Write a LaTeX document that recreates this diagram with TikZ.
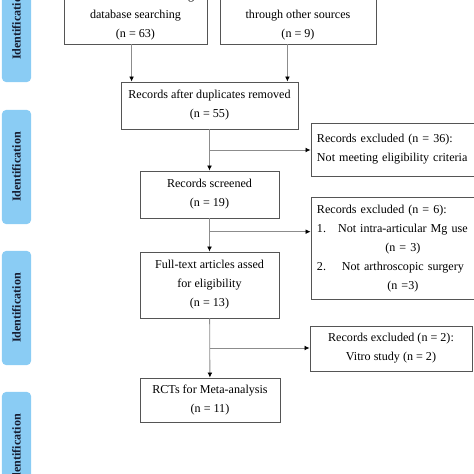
\documentclass[tikz,border=0pt]{standalone}
\usepackage{fontspec}
\setmainfont{Liberation Serif}
\usetikzlibrary{arrows.meta,calc}
\definecolor{bandblue}{RGB}{138,204,244}
\definecolor{bandtext}{RGB}{22,28,48}
\definecolor{boxline}{RGB}{85,85,85}
\definecolor{flowline}{RGB}{140,140,140}
\tikzset{
  prisma/.style={draw=boxline,line width=0.55pt,fill=white,align=center,
    inner sep=0pt,font=\fontsize{8.6}{13.5}\selectfont},
  sidebox/.style={prisma,text width=#1,align=left,inner xsep=0.15cm},
  band/.style={fill=bandblue,rounded corners=0.1cm,rotate=90,
    minimum width=2.85cm,minimum height=0.725cm,inner sep=0pt,
    text=bandtext,font=\fontsize{8.6}{10}\selectfont\bfseries},
  flow/.style={draw=flowline,line width=0.6pt,
    -{Latex[length=3.6pt,width=3.4pt,color=black]}}
}
\begin{document}
\begin{tikzpicture}[x=0.025cm,y=-0.025cm]
 \clip (0,0) rectangle (474,474);
 \foreach \yc [count=\i] in {25,167,308,449}
   \node[band] (id\i) at (16.5,\yc) {Identification};
 \node[prisma,minimum width=3.575cm,minimum height=1.4cm] (topl) at (135.5,16)
   {Records identified through\\database searching\\(n = 63)};
 \node[prisma,minimum width=3.9cm,minimum height=1.4cm] (topr) at (298,16)
   {Additional records identified\\through other sources\\(n = 9)};
 \node[prisma,minimum width=4.425cm,minimum height=1.175cm] (dup) at (209.5,105.5)
   {Records after duplicates removed\\(n = 55)};
 \node[prisma,minimum width=3.475cm,minimum height=1.175cm] (scr) at (209.5,194.5)
   {Records screened\\(n = 19)};
 \node[prisma,minimum width=3.475cm,minimum height=1.65cm] (full) at (209.5,285)
   {Full-text articles assed\\for eligibility\\(n = 13)};
 \node[prisma,minimum width=3.5cm,minimum height=1.1cm] (rct) at (210,400)
   {RCTs for Meta-analysis\\(n = 11)};
 \node[sidebox=3.825cm,minimum height=1.325cm] (excla) at (393.5,149.5)
   {Records excluded (n = 36):\\Not meeting eligibility criteria};
 \node[sidebox=3.825cm,minimum height=2.55cm] (exclb) at (393.5,248)
   {\begin{tabular}{@{}r@{\hspace{0.3cm}}c@{}}
     \multicolumn{2}{@{}l@{}}{Records excluded (n = 6):}\\
     1. & Not intra-articular Mg use\\
        & (n = 3)\\
     2. & Not arthroscopic surgery\\
        & (n =3)
    \end{tabular}};
 \node[prisma,minimum width=4.05cm,minimum height=1.125cm] (exclc) at (391,348.5)
   {Records excluded (n = 2):\\Vitro study (n = 2)};
 \coordinate (inl) at ([xshift=0.275cm]dup.north west);
 \coordinate (inr) at ([xshift=-0.275cm]dup.north east);
 \draw[flow] (topl.south -| inl) -- (inl);
 \draw[flow] (topr.south -| inr) -- (inr);
 \coordinate (b1) at ($(dup.south)!0.5!(scr.north)$);
 \coordinate (b2) at ($(scr.south)!0.4!(full.north)$);
 \coordinate (b3) at ($(full.south)!0.5!(rct.north)$);
 \draw[flow] (dup) -- (scr);
 \draw[flow] (scr) -- (full);
 \draw[flow] (full) -- (rct);
 \draw[flow] (b1) -- (b1 -| excla.west);
 \draw[flow] (b2) -- (b2 -| exclb.west);
 \draw[flow] (b3) -- (b3 -| exclc.west);
\end{tikzpicture}
\end{document}
